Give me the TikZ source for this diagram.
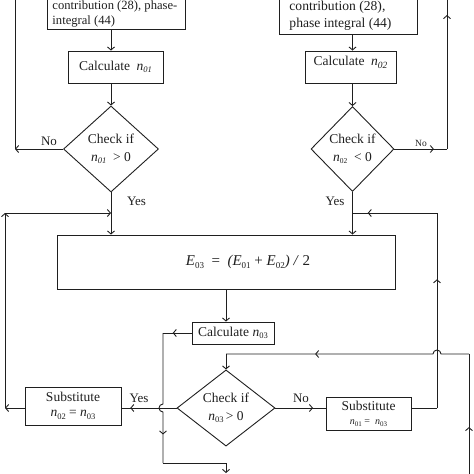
\documentclass[tikz,border=0pt]{standalone}
\usepackage{fontspec}
\setmainfont{Liberation Serif}
\usetikzlibrary{arrows.meta,shapes.geometric,decorations.markings}
\newcommand{\lsub}[2][8.5]{\raisebox{-0.4ex}{\fontsize{#1}{#1}\selectfont #2}}
\tikzset{
  box/.style={draw, rectangle, inner sep=0pt, align=center, font=\fontsize{13.5}{16}\selectfont},
  dia/.style={draw, diamond, inner sep=0pt, align=center, font=\fontsize{13.5}{16}\selectfont},
  lbl/.style={inner sep=0pt, font=\fontsize{13}{13}\selectfont},
  tip/.style={-{Straight Barb[length=3pt,width=7pt]}},
  midarr/.style={postaction={decorate,decoration={markings,mark=at position #1 with {\arrow{Straight Barb[length=3pt,width=7pt]}}}}}
}
\begin{document}
\begin{tikzpicture}[x=1pt,y=-1pt,line width=0.9pt,color=black!88]
\clip (0,0) rectangle (474,474);
% top boxes (cut by the frame)
\node[box, minimum width=138pt, minimum height=70pt] (topL) at (116,-6) {};
\node[inner sep=0pt, anchor=south west, align=left, font=\fontsize{12.6}{15}\selectfont] (topLt) at (52,28) {contribution (28), phase-\\integral (44)};
\node[box, minimum width=138pt, minimum height=70pt] (topR) at (348,-1) {};
\node[inner sep=0pt, anchor=south west, align=left, font=\fontsize{13.6}{17}\selectfont] (topRt) at (289,31) {contribution (28),\\phase integral (44)};
% calculate boxes
\node[box, minimum width=95pt, minimum height=32pt] (calcL) at (115.5,67) {Calculate\ \ \textit{n}\lsub{\textit{01}}};
\node[box, minimum width=91pt, minimum height=32pt] (calcR) at (350.5,67) {Calculate\ \ \textit{n}\lsub[9.5]{\textit{02}}\\[-4pt]\mbox{}};
% decisions
\node[dia, minimum width=95pt, minimum height=86pt] (diamL) at (111,149) {Check if\\[2pt]\textit{n}\lsub{\textit{01}}\ \ > 0};
\node[dia, minimum width=83pt, minimum height=85pt] (diamR) at (352.5,149) {Check if\\[2pt]\textit{n}\lsub[7.5]{02}\ \ < 0};
% big box
\node[box, minimum width=338pt, minimum height=54pt] (big) at (226,262) {\hspace*{44pt}\fontsize{15}{15}\selectfont\textit{E}\lsub[9]{03}\ \ =\ \ \textit{(E}\lsub[9]{01} + \textit{E}\lsub[9]{02}\textit{) / }2};
\node[box, minimum width=82pt, minimum height=22pt] (calcM) at (233,333) {Calculate \textit{n}\lsub{03}};
\node[dia, minimum width=98pt, minimum height=74pt] (diamM) at (226,408) {Check if\\[2pt]\textit{n}\lsub{03}\,> 0};
\node[box, minimum width=96pt, minimum height=38pt] (sub02) at (73,406) {Substitute\\[-1pt]\textit{n}\lsub{02} = \textit{n}\lsub{03}};
\node[box, minimum width=85pt, minimum height=33pt] (sub01) at (368.5,413.5) {Substitute\\[-2pt]{\fontsize{10}{10}\selectfont\textit{n}\lsub[7]{01} =\ \ \textit{n}\lsub[7]{03}}};
% labels
\node[lbl] (noL) at (49,141) {No};
\node[lbl] (yesL) at (136.5,201) {Yes};
\node[lbl, font=\fontsize{9.5}{9.5}\selectfont] (noR) at (421,143) {No};
\node[lbl] (yesR) at (335,201) {Yes};
\node[lbl] (yesM) at (139,398) {Yes};
\node[lbl] (noM) at (301,398) {No};
% helper coordinates
\coordinate (lnA) at (15,149);
\coordinate (lnTop) at (15,-5);
\coordinate (rnA) at (447,149);
\coordinate (rnTop) at (447,-5);
\coordinate (ll1) at (5,408);
\coordinate (ll2) at (5,213);
\coordinate (rl1) at (437,408);
\coordinate (rl2) at (437,213);
\coordinate (mj) at (163,333);
\coordinate (hmp) at (163,404);
\coordinate (mb1) at (163,463);
\coordinate (mb2) at (226,463);
\coordinate (mbEnd) at (226,473);
\coordinate (tl0) at (469,480);
\coordinate (tl1) at (469,354);
\coordinate (hA) at (441,354);
\coordinate (tl2) at (226,354);
% connectors
\draw[tip] (diamL.north |- topL.south) -- (diamL.north |- calcL.north);
\draw[tip] (diamL.north |- calcL.south) -- (diamL.north);
\draw[tip] (diamR.north |- topR.south) -- (diamR.north |- calcR.north);
\draw[tip] (diamR.north |- calcR.south) -- (diamR.north);
\draw[tip] (diamL.west) -- (lnA);
\draw (lnA) -- (lnTop);
\draw[midarr=0.75] (diamR.east) -- (rnA);
\draw[midarr=0.87] (rnA) -- (rnTop);
\draw[tip] (diamL.south) -- (diamL.south |- big.north);
\draw[tip] (diamR.south) -- (diamR.south |- big.north);
\draw[tip] (sub02.west |- diamM.west) -- (ll1);
\draw[tip] (ll1) -- (ll2);
\draw[tip] (ll2) -- (ll2 -| diamL.south);
\draw (sub01.east |- diamM.east) -- (rl1);
\draw[midarr=0.66] (rl1) -- (rl2);
\draw[midarr=0.82] (rl2) -- (rl2 -| diamR.south);
\draw[tip] (big.south -| diamM.north) -- (diamM.north |- calcM.north);
\draw[midarr=0.66] (calcM.west) -- (mj);
\draw[midarr=106pt] (mj) -- (hmp) arc[start angle=90,end angle=270,radius=4pt] -- (mb1);
\draw[tip] (mb1) -- (mb2) -- (mbEnd);
\draw[midarr=0.42] (tl0) -- (tl1);
\draw[midarr=0.64] (tl1) -- (hA) arc[start angle=0,end angle=180,radius=4pt] -- (tl2);
\draw[tip] (tl2) -- (diamM.north);
\draw[midarr=0.84] (diamM.west) -- (diamM.west -| sub02.east);
\draw[midarr=0.75] (diamM.east) -- (diamM.east -| sub01.west);
\end{tikzpicture}
\end{document}
